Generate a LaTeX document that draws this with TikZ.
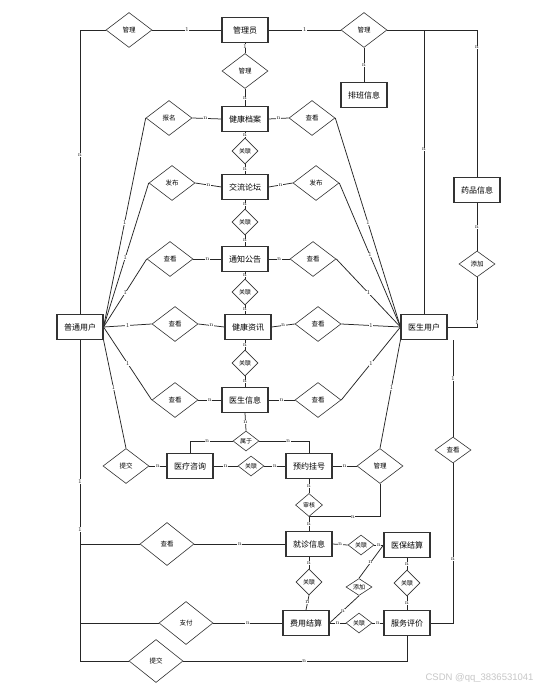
\documentclass[tikz,border=0pt]{standalone}
\usepackage{fontspec}
\newfontfamily\cjk{Noto Sans CJK SC}
\newfontfamily\wm{Liberation Sans}
\usetikzlibrary{shapes.geometric,backgrounds}
\begin{document}
\begin{tikzpicture}[x=1pt,y=-1pt,
  ent/.style={draw=black!80, line width=1.1pt, fill=white, minimum width=46pt, minimum height=25pt, inner sep=0pt, font=\cjk\fontsize{8}{8}\selectfont},
  rel/.style={diamond, draw=black!80, line width=0.6pt, fill=white, inner sep=0pt, minimum width=46pt, minimum height=35pt, font=\cjk\fontsize{6.5}{7}\selectfont},
  relS/.style={rel, minimum width=26pt, minimum height=26pt, font=\cjk\fontsize{6}{6}\selectfont},
  relH/.style={rel, aspect=1.5, minimum width=26pt, minimum height=20pt, font=\cjk\fontsize{6}{6}\selectfont},
  relM/.style={rel, aspect=1.4, minimum width=36pt, minimum height=26pt},
  relL/.style={rel, minimum width=54pt, minimum height=43pt},
  conn/.style={draw=black!85, line width=0.75pt},
  lab/.style={font=\fontsize{6}{6}\selectfont, fill=white, inner sep=0.4pt, text=black!85}
]
\useasboundingbox (0,0) rectangle (539,692);

% entities and relations
\node[ent] (gly) at (245,30) {管理员};
\node[rel] (gl1) at (129,30) {管理};
\node[rel] (gl2) at (364,30) {管理};
\node[rel] (gl3) at (245,71) {管理};
\node[ent] (pb) at (364,95) {排班信息};
\node[ent] (jkda) at (245,119) {健康档案};
\node[rel] (bm) at (169,118) {报名};
\node[rel] (ck1) at (312,118) {查看};
\node[relS] (ga) at (245,151) {关联};
\node[ent] (jllt) at (245,187) {交流论坛};
\node[rel] (fb1) at (172,183) {发布};
\node[rel] (fb2) at (316,183) {发布};
\node[relS] (gb) at (245,222) {关联};
\node[ent] (tzgg) at (245,259) {通知公告};
\node[rel] (ck2) at (170,259) {查看};
\node[rel] (ck3) at (313,259) {查看};
\node[relS] (gc) at (245,292) {关联};
\node[ent] (jkzx) at (248,327) {健康资讯};
\node[rel] (ck4) at (175,324) {查看};
\node[rel] (ck5) at (318,324) {查看};
\node[relS] (gd) at (245,363) {关联};
\node[ent] (ysxx) at (245,400) {医生信息};
\node[rel] (ck6) at (175,400) {查看};
\node[rel] (ck7) at (318,400) {查看};
\node[relH] (sy) at (246,441) {属于};
\node[ent] (yl) at (190,466) {医疗咨询};
\node[rel] (tj1) at (126,466) {提交};
\node[relH] (ge) at (251,466) {关联};
\node[ent] (yy) at (309,466) {预约挂号};
\node[rel] (gl4) at (380,466) {管理};
\node[relS, minimum width=27pt, minimum height=23pt] (sh) at (309,505) {审核};
\node[ent] (jz) at (309,544) {就诊信息};
\node[relL] (ck8) at (167,544) {查看};
\node[relH] (gf) at (361,545) {关联};
\node[ent] (yb) at (407,545) {医保结算};
\node[relS] (gg) at (309,582) {关联};
\node[relH, minimum height=17pt] (tj3) at (359,587) {添加};
\node[relS] (gi) at (407,583) {关联};
\node[ent] (fy) at (306,623) {费用结算};
\node[relH] (gh) at (359,623) {关联};
\node[ent] (fw) at (407,623) {服务评价};
\node[relL] (zf) at (186,623) {支付};
\node[relL] (tj2) at (156,661) {提交};
\node[ent] (pu) at (80,327) {普通用户};
\node[ent] (ysu) at (424,327) {医生用户};
\node[ent] (yp) at (477,190) {药品信息};
\node[relM] (tj4) at (477,264) {添加};
\node[relM] (ck9) at (453,450) {查看};

\node[font=\wm\fontsize{9.5}{10}\selectfont, text=black!22, anchor=east] (wmk) at (537,678) {CSDN @qq\_3836531041};

\begin{scope}[on background layer]
\fill[white] (0,0) rectangle (539,692);
% top
\path[conn] (gl1.east) -- node[lab]{1} (gly.west);
\path[conn] (gly.east) -- node[lab]{1} (gl2.west);
\path[conn] (gly.south) -- node[lab, pos=.3]{1} (gl3.north);
\path[conn] (gl3.south) -- node[lab, pos=.55]{n} (jkda.north);
\path[conn] (gl2.south) -- node[lab]{n} (pb.north);
\path[conn] (gl2.east) -| node[lab, pos=.71]{n} (ysu.north);
\path[conn] (gl2.east) -| node[lab, pos=.56]{n} (yp.north);
% left vertical
\path[conn] (gl1.west) -| node[lab, pos=.72]{n} (pu.north);
\path[conn] (pu.south) |- node[lab, pos=.22]{1} node[lab, pos=.295]{1} (tj2.west);
\path[conn] (ck8.west) -- (ck8.west -| pu.south);
\path[conn] (zf.west) -- (zf.west -| pu.south);
% column
\path[conn] (bm.east) -- node[lab, pos=.45]{n} (jkda.west);
\path[conn] (jkda.east) -- node[lab]{n} (ck1.west);
\path[conn] (jkda.south) -- node[lab]{n} (ga.north);
\path[conn] (ga.south) -- node[lab]{n} (jllt.north);
\path[conn] (fb1.east) -- node[lab]{n} (jllt.west);
\path[conn] (jllt.east) -- node[lab]{n} (fb2.west);
\path[conn] (jllt.south) -- node[lab]{n} (gb.north);
\path[conn] (gb.south) -- node[lab]{n} (tzgg.north);
\path[conn] (ck2.east) -- node[lab]{n} (tzgg.west);
\path[conn] (tzgg.east) -- node[lab]{n} (ck3.west);
\path[conn] (tzgg.south) -- node[lab]{n} (gc.north);
\path[conn] (gc.south) -- node[lab]{n} (jkzx.north -| gc.south);
\path[conn] (ck4.east) -- node[lab]{n} (jkzx.west);
\path[conn] (jkzx.east) -- node[lab]{n} (ck5.west);
\path[conn] (jkzx.south -| gd.north) -- node[lab]{n} (gd.north);
\path[conn] (gd.south) -- node[lab]{n} (ysxx.north);
\path[conn] (ck6.east) -- node[lab]{n} (ysxx.west);
\path[conn] (ysxx.east) -- node[lab]{n} (ck7.west);
\path[conn] (ysxx.south) -- node[lab]{n} (sy.north);
% left fan
\path[conn] (pu.east) -- node[lab]{1} (bm.west);
\path[conn] (pu.east) -- node[lab, pos=.48]{1} (fb1.west);
\path[conn] (pu.east) -- node[lab]{1} (ck2.west);
\path[conn] (pu.east) -- node[lab]{1} (ck4.west);
\path[conn] (pu.east) -- node[lab]{1} (ck6.west);
\path[conn] (pu.south east) -- node[lab, pos=.44]{1} (tj1.north);
% right fan
\path[conn] (ck1.east) -- node[lab]{1} (ysu.west);
\path[conn] (fb2.east) -- node[lab]{1} (ysu.west);
\path[conn] (ck3.east) -- node[lab]{1} (ysu.west);
\path[conn] (ck5.east) -- node[lab]{1} (ysu.west);
\path[conn] (ck7.east) -- node[lab]{1} (ysu.west);
\path[conn] (gl4.north) -- node[lab, pos=.56]{1} (ysu.south west);
% right side
\path[conn] (yp.south) -- node[lab]{n} (tj4.north);
\path[conn] (tj4.south) |- node[lab, pos=.45]{1} (ysu.east);
\path[conn] (ysu.south -| ck9.north) -- node[lab, pos=.4]{1} (ck9.north);
\path[conn] (ck9.south) |- node[lab, pos=.3]{n} (fw.east);
% consult / appointment
\path[conn] (yl.north) |- node[lab, pos=.7]{n} (sy.west);
\path[conn] (sy.east) -| node[lab, pos=.29]{n} (yy.north);
\path[conn] (tj1.east) -- node[lab]{n} (yl.west);
\path[conn] (yl.east) -- node[lab]{n} (ge.west);
\path[conn] (ge.east) -- node[lab]{n} (yy.west);
\path[conn] (yy.east) -- node[lab]{n} (gl4.west);
\path[conn] (gl4.south) |- node[lab, pos=.69]{n} (sh.south);
\path[conn] (yy.south) -- node[lab]{n} (sh.north);
\path[conn] (sh.south) -- node[lab]{n} (jz.north);
% bottom
\path[conn] (ck8.east) -- node[lab]{n} (jz.west);
\path[conn] (jz.east) -- node[lab]{n} (gf.west);
\path[conn] (gf.east) -- node[lab]{n} (yb.west);
\path[conn] (jz.south) -- node[lab]{n} (gg.north);
\path[conn] (gg.south) -- node[lab]{n} (fy.north);
\path[conn] (yb.west) -- node[lab, pos=.53]{n} (tj3.north);
\path[conn] (tj3.south) -- node[lab, pos=.55]{n} (fy.east);
\path[conn] (yb.south) -- node[lab]{n} (gi.north);
\path[conn] (gi.south) -- node[lab]{n} (fw.north);
\path[conn] (fy.east) -- node[lab]{n} (gh.west);
\path[conn] (gh.east) -- node[lab]{n} (fw.west);
\path[conn] (zf.east) -- node[lab]{n} (fy.west);
\path[conn] (tj2.east) -| node[lab, pos=.27]{n} (fw.south);
\end{scope}
\end{tikzpicture}
\end{document}
